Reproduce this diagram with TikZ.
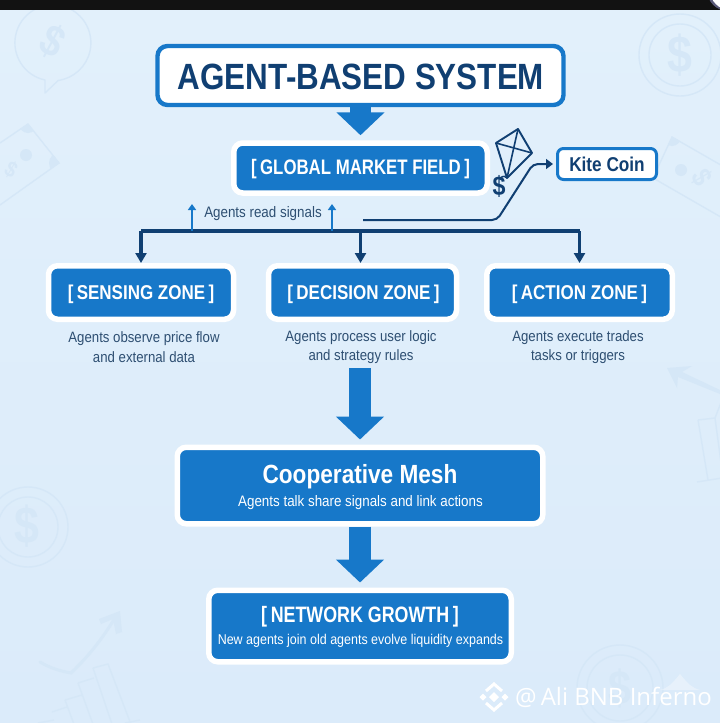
\documentclass[tikz,border=0pt]{standalone}
\usepackage{fontspec}
\usetikzlibrary{arrows.meta,calc}
\setmainfont{Liberation Sans}
\newfontfamily\headfont[FakeStretch=0.86]{Liberation Sans Bold}
\newfontfamily\zonefont[FakeStretch=0.85]{Liberation Sans Bold}
\newfontfamily\narrowfont[FakeStretch=0.80]{Liberation Sans Bold}
\newfontfamily\bodyfont[FakeStretch=0.88]{Liberation Sans}
\newfontfamily\markfont{Open Sans}
\definecolor{bgtop}{HTML}{E2F0FB}
\definecolor{bgbot}{HTML}{DBEBFA}
\definecolor{decor}{HTML}{D5E7F7}
\definecolor{mainblue}{HTML}{1778C9}
\definecolor{navy}{HTML}{103F72}
\definecolor{bodytext}{HTML}{2E4F72}
\tikzset{
  x=1pt,y=-1pt,
  bluebox/.style={rounded corners=9pt,draw=white,fill=mainblue,line width=5.5pt,text=white,align=center,inner sep=0pt,font=\zonefont},
  zonetext/.style={font=\zonefont\fontsize{20}{22}\selectfont,text=white,inner sep=0pt},
  subtext/.style={font=\bodyfont\fontsize{14}{16}\selectfont,text=white,inner sep=0pt},
  captext/.style={font=\bodyfont\fontsize{15}{19.5}\selectfont,text=bodytext,align=center,inner sep=0pt},
  fatarrow/.style={draw=mainblue,line width=21.5pt,-{Triangle[length=23pt,width=47pt]}},
  busline/.style={draw=navy,line width=3.8pt},
  busarrow/.style={draw=navy,line width=3.8pt,-{Triangle[length=10pt,width=11pt]}},
  thinup/.style={draw=mainblue,line width=1.6pt,-{Triangle[length=6pt,width=8pt]}},
  decoline/.style={draw=decor,line width=1.4pt},
  decotext/.style={text=decor,font=\headfont,inner sep=0pt},
}
\begin{document}
\begin{tikzpicture}
\useasboundingbox (0,0) rectangle (720,723);
\begin{scope}
\clip (0,0) rectangle (720,723);
\shade[top color=bgtop,bottom color=bgbot] (0,0) rectangle (720,723);
% background decoration
\draw[decoline,line join=round] (45,80) arc[start angle=102,end angle=442,radius=38] -- (45,93) -- cycle;
\node[decotext,rotate=-28,font=\headfont\fontsize{44}{44}\selectfont] (bgA) at (53,41) {\$};
\draw[decoline] (0,143) -- (28,124) -- (59,163) -- (0,205);
\fill[decor] (26,155) circle (6);
\begin{scope}
\clip (-10,150) -- (28,124) -- (59,163) -- (-10,212) -- cycle;
\fill[decor] (28,124) circle (9);
\fill[decor] (59,163) circle (10);
\end{scope}
\node[decotext,rotate=-30,font=\headfont\fontsize{22}{22}\selectfont] (bgB) at (11,170) {\$};
\draw[decoline] (680,55) circle (41);
\draw[decoline] (680,55) circle (31);
\node[decotext,font=\headfont\fontsize{52}{52}\selectfont] (bgC) at (680,55) {\$};
\draw[decoline] (726,168) -- (672,137) -- (653,178) -- (726,220);
\fill[decor] (681,170) circle (6);
\begin{scope}
\clip (672,137) -- (726,168) -- (726,220) -- (653,178) -- cycle;
\fill[decor] (672,137) circle (9);
\end{scope}
\node[decotext,rotate=-60,font=\headfont\fontsize{28}{28}\selectfont] (bgD) at (702,178) {\$};
\draw[decoline] (28,527) circle (40);
\draw[decoline] (28,527) circle (30);
\node[decotext,font=\headfont\fontsize{52}{52}\selectfont] (bgE) at (27,526) {\$};
\draw[draw=decor,line width=3pt,line cap=round] (40,662) .. controls (50,668) and (60,671) .. (71,673) .. controls (90,655) and (105,635) .. (116,616);
\fill[decor] (120,611) -- (99,619) -- (101,624) -- (113,619) -- (116,634) -- (122,632) -- cycle;
\draw[decoline] (93,668) -- (108,664) -- (132,727);
\draw[decoline] (93,668) -- (113,727);
\draw[decoline] (78,683) -- (94,678);
\draw[decoline] (78,683) -- (94,727);
\draw[decoline] (65,700) -- (82,695);
\draw[decoline] (65,700) -- (75,727);
\draw[decoline] (52,712) -- (67,707);
\draw[decoline] (38,723) -- (54,720);
\draw[decoline] (125,723) -- (140,720);
\draw[decoline] (620,688) circle (43);
\draw[decoline] (620,688) circle (33);
\node[decotext,font=\headfont\fontsize{48}{48}\selectfont] (bgF) at (620,688) {\$};
\fill[decor] (667,368) -- (692,366) -- (682,372) -- (720,390) -- (720,394) -- (678,377) -- (677,388) -- cycle;
\draw[decoline] (698,420) -- (715,418) -- (722,400);
\draw[decoline] (698,420) -- (708,480);
\draw[decoline] (697,482) -- (722,478);
\draw[decoline] (715,418) -- (722,470);
\fill[white,opacity=0.35] (680,674) .. controls (672,684) and (668,688) .. (660,690) -- (700,690) .. controls (692,688) and (688,684) .. (680,674) -- cycle;
% top bar
\fill[black!93] (0,0) rectangle (720,10);
\fill[black!60!blue!30!gray] (728,-10) circle (21);
\fill[white] (730,-10) circle (20);
\end{scope}

% main boxes
\node[rounded corners=10pt,draw=mainblue,fill=white,line width=4.4pt,minimum width=406pt,minimum height=59pt,inner sep=0pt] (title) at (360.5,75.5) {};
\node[inner sep=0pt,text=navy,font=\headfont\fontsize{36.5}{37}\selectfont] (titleT) at (361,76.5) {AGENT-BASED SYSTEM};
\node[bluebox,minimum width=253.5pt,minimum height=50pt] (global) at (360.5,168) {};
\node[inner sep=0pt,text=white,font=\narrowfont\fontsize{21}{22}\selectfont] (globalT) at (360.5,169.5) {[\,GLOBAL MARKET FIELD\,]};
\node[rounded corners=6pt,draw=mainblue,fill=white,line width=3pt,minimum width=99pt,minimum height=31pt,inner sep=0pt,text=navy,font=\headfont\fontsize{20}{20}\selectfont] (kitecoin) at (607,164) {Kite Coin};

\node[bluebox,minimum width=185pt,minimum height=53.5pt] (sensing) at (141,292.5) {};
\node[zonetext] (sensingT) at (141,294) {[\,SENSING ZONE\,]};
\node[bluebox,minimum width=188pt,minimum height=53.5pt] (decision) at (362.5,292.5) {};
\node[zonetext] (decisionT) at (363.5,294) {[\,DECISION ZONE\,]};
\node[bluebox,minimum width=185.5pt,minimum height=53.5pt] (action) at (579.5,292.5) {};
\node[zonetext] (actionT) at (579.5,294) {[\,ACTION ZONE\,]};

\node[captext] (sensingC) at (144,347) {Agents observe price flow\\and external data};
\node[captext] (decisionC) at (361,347) {Agents process user logic\\and strategy rules};
\node[captext] (actionC) at (578,347) {Agents execute trades\\tasks or triggers};

\node[bluebox,minimum width=365.5pt,minimum height=76.5pt] (mesh) at (360,485.5) {};
\node[inner sep=0pt,text=white,font=\headfont\fontsize{26.3}{26.3}\selectfont] (meshT) at (360,477) {Cooperative Mesh};
\node[subtext,font=\bodyfont\fontsize{15.2}{16}\selectfont] (meshS) at (360.5,502.5) {Agents talk share signals and link actions};

\node[bluebox,minimum width=302.5pt,minimum height=71.5pt] (growth) at (360,626) {};
\node[inner sep=0pt,text=white,font=\narrowfont\fontsize{22.3}{24}\selectfont] (growthT) at (360,616.5) {[\,NETWORK GROWTH\,]};
\node[subtext,font=\bodyfont\fontsize{14.2}{16}\selectfont] (growthS) at (360.5,640.5) {New agents join old agents evolve liquidity expands};

% thick arrows
\coordinate (decOut) at (360,368);
\draw[fatarrow,shorten >=5pt] (title.south) -- (global.north);
\draw[fatarrow,shorten >=5pt] (decOut) -- (mesh.north);
\draw[fatarrow,shorten >=5pt] (mesh.south) -- (growth.north);

% bus
\coordinate (busL) at (141,231);
\coordinate (busM) at (360.5,231);
\coordinate (busR) at (579.5,231);
\draw[busline,line cap=square] (busL) -- (busR);
\draw[busarrow] (busL) -- (busL |- sensing.north);
\draw[busarrow] (busM) -- (busM |- decision.north);
\draw[busarrow] (busR) -- (busR |- action.north);

% signals
\coordinate (sigA) at (192,231);
\coordinate (sigB) at (332,231);
\coordinate (sigAtop) at (192,204);
\coordinate (sigBtop) at (332,204);
\draw[thinup] (sigA) -- (sigAtop);
\draw[thinup] (sigB) -- (sigBtop);
\node[inner sep=0pt,text=bodytext,font=\bodyfont\fontsize{15.2}{15}\selectfont] (signals) at (263,213.5) {Agents read signals};

% kite link
\coordinate (linkStart) at (363,220);
\draw[draw=navy,line width=2pt,rounded corners=5pt,-{Triangle[length=7pt,width=10pt]},shorten >=3pt] (linkStart) -- (497,220) -- (533,164) -- (kitecoin.west);

% kite
\draw[draw=navy,line width=1.9pt,line join=round] (518,129) -- (532,153) -- (507,178) -- (496,143) -- cycle;
\draw[draw=navy,line width=1.6pt] (518,129) -- (507,178);
\draw[draw=navy,line width=1.6pt] (496,143) -- (532,153);
\draw[draw=navy,line width=1.4pt] (507,178) .. controls (503,174) and (500,178) .. (500,180);
\node[inner sep=0pt,text=navy,font=\headfont\fontsize{27}{27}\selectfont] (kitedollar) at (499,186) {\$};

% watermark
\node[inner sep=0pt,anchor=west,text=white,font=\markfont\fontsize{24}{24}\selectfont] (mark) at (515,697) {@\,Ali BNB Inferno};
\begin{scope}[shift={(494,697)}]
\fill[white] (0,-5) -- (5,0) -- (0,5) -- (-5,0) -- cycle;
\fill[white] (-11,-3.5) -- (-7.5,0) -- (-11,3.5) -- (-14.5,0) -- cycle;
\fill[white] (11,-3.5) -- (14.5,0) -- (11,3.5) -- (7.5,0) -- cycle;
\draw[white,line width=3pt] (-8,-6) -- (0,-13) -- (8,-6);
\draw[white,line width=3pt] (-8,6) -- (0,13) -- (8,6);
\end{scope}
\end{tikzpicture}
\end{document}
